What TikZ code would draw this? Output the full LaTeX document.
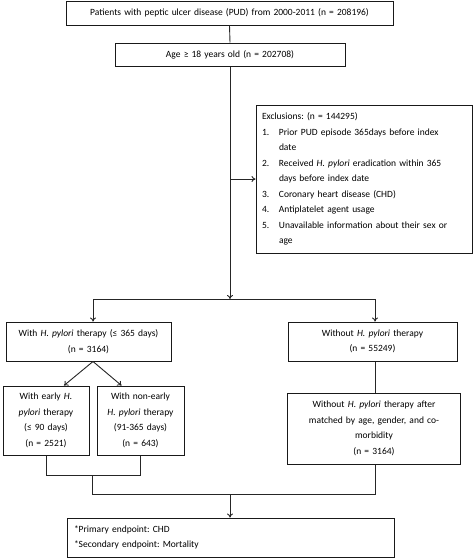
\documentclass[tikz,border=0pt]{standalone}
\usepackage{fontspec}
\setmainfont{Carlito}
\frenchspacing
\usetikzlibrary{arrows.meta,calc}
\begin{document}
\begin{tikzpicture}[x=1pt,y=-1pt,
 box/.style={draw=black!90, line width=1pt, inner sep=0pt, align=center, font=\fontsize{9.5}{15.5}\selectfont\frenchspacing, text=black},
 conn/.style={draw=black!85, line width=0.9pt},
 arr/.style={conn, -{To[length=4pt,width=6pt]}}]
\useasboundingbox (0,0) rectangle (474,560);
\node[box, minimum width=327pt, minimum height=24pt, text width=320pt] (pud) at (229.5,13) {Patients with peptic ulcer disease (PUD) from 2000-2011 (n = 208196)};
\node[box, minimum width=230pt, minimum height=23pt, text width=224pt] (age) at (230,54.5) {Age ≥ 18 years old (n = 202708)};
\node[box, minimum width=216pt, minimum height=148pt, text width=204pt, align=left] (excl) at (364,179) {Exclusions: (n = 144295)\\
\makebox[17pt][l]{1.}Prior PUD episode 365days before index\\
\hspace*{17pt}date\\
\makebox[17pt][l]{2.}Received \textit{H. pylori} eradication within 365\\
\hspace*{17pt}days before index date\\
\makebox[17pt][l]{3.}Coronary heart disease (CHD)\\
\makebox[17pt][l]{4.}Antiplatelet agent usage\\
\makebox[17pt][l]{5.}Unavailable information about their sex or\\
\hspace*{17pt}age};
\node[box, minimum width=165pt, minimum height=39pt, text width=160pt] (with) at (88.5,341.5) {With \textit{H. pylori} therapy (≤ 365 days)\\(n = 3164)};
\node[box, minimum width=169pt, minimum height=39pt, text width=164pt] (without) at (372.5,341.5) {Without \textit{H. pylori} therapy\\(n = 55249)};
\node[box, minimum width=86pt, minimum height=69pt, text width=82pt] (early) at (46,420.5) {With early \textit{H.}\\\textit{pylori} therapy\\(≤ 90 days)\\(n = 2521)};
\node[box, minimum width=87pt, minimum height=69pt, text width=83pt] (nonearly) at (140.5,420.5) {With non-early\\\textit{H. pylori} therapy\\(91-365 days)\\(n = 643)};
\node[box, minimum width=173pt, minimum height=71pt, text width=168pt] (matched) at (374,428.5) {Without \textit{H. pylori} therapy after\\matched by age, gender, and co-\\morbidity\\(n = 3164)};
\node[box, minimum width=327pt, minimum height=39pt, text width=313pt, align=left] (endp) at (230.5,537.5) {*Primary endpoint: CHD\\{}*Secondary endpoint: Mortality};
\coordinate (j1) at (230,299);
\coordinate (e0) at (230,179);
\coordinate (jl) at (93,299);
\coordinate (jr) at (375,299);
\coordinate (mb) at (92,475);
\coordinate (jbl) at (92,494);
\coordinate (jbr) at (375,494);
\coordinate (jbm) at (230,494);
\draw[conn] (pud.south) -- (age.north);
\draw[arr] (age.south) -- (j1);
\draw[arr] (e0) -- (excl.west);
\draw[conn] (jl) -- (jr);
\draw[arr] (jl) -- (jl |- with.north);
\draw[arr] (jr) -- (jr |- without.north);
\draw[arr] (with.south -| jl) -- ($(early.north)+(18,0)$);
\draw[arr] (with.south -| jl) -- ($(nonearly.north)+(-19,0)$);
\draw[conn] (without.south -| jr) -- (matched.north -| jr);
\draw[conn] (early.south) -- (early.south |- mb) -- (nonearly.south |- mb) -- (nonearly.south);
\draw[conn] (mb) -- (jbl) -- (jbr) -- (matched.south -| jbr);
\draw[arr] (jbm) -- (endp.north -| jbm);
\end{tikzpicture}
\end{document}
